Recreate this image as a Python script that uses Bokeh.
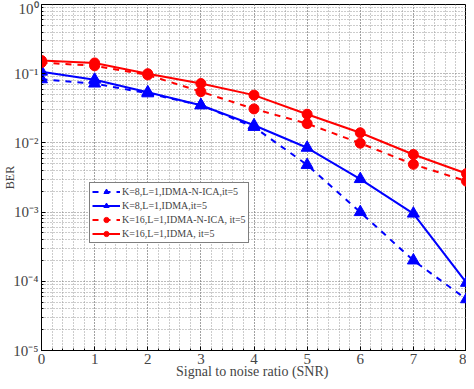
from bokeh.plotting import figure
from bokeh.embed import file_html
from bokeh.resources import INLINE
from bokeh.models import Legend, LegendItem, CustomJSTickFormatter, FixedTicker, Range1d

snr = [0, 1, 2, 3, 4, 5, 6, 7, 8]
k8_nica = [0.083, 0.072, 0.052, 0.035, 0.017, 0.0048, 0.001, 0.0002, 5.5e-5]
k8_idma = [0.107, 0.082, 0.054, 0.035, 0.018, 0.0085, 0.003, 0.00095, 9.5e-5]
k16_nica = [0.145, 0.13, 0.096, 0.055, 0.031, 0.019, 0.0099, 0.0049, 0.0028]
k16_idma = [0.155, 0.143, 0.1, 0.072, 0.049, 0.026, 0.014, 0.0068, 0.0036]
labels = ["K=8,L=1,IDMA-N-ICA,it=5", "K=8,L=1,IDMA,it=5",
          "K=16,L=1,IDMA-N-ICA, it=5", "K=16,L=1,IDMA, it=5"]
x_ticks = [0, 1, 2, 3, 4, 5, 6, 7, 8]
y_ticks = [1e-5, 1e-4, 1e-3, 1e-2, 1e-1, 1]
x_title = "Signal to noise  ratio (SNR)"
y_title = "BER"

FONT = "Liberation Serif"

p = figure(width=466, height=381, y_axis_type="log", output_backend="svg",
           toolbar_location=None, x_range=Range1d(0, 8), y_range=Range1d(1e-5, 1),
           min_border_left=0, min_border_right=0, min_border_top=4, min_border_bottom=0)

p.outline_line_color = "black"
p.outline_line_width = 1

series = [
    (k8_nica, "blue", "dashed", "triangle", 12),
    (k8_idma, "blue", "solid", "triangle", 12),
    (k16_nica, "red", "dashed", "circle", 10),
    (k16_idma, "red", "solid", "circle", 10),
]
items = []
for (ys, col, dash, mk, sz), lab in zip(series, labels):
    r1 = p.line(snr, ys, line_color=col, line_width=2, line_dash=dash)
    r2 = p.scatter(snr, ys, marker=mk, size=sz, fill_color=col, line_color=col)
    items.append(LegendItem(label=lab, renderers=[r1, r2]))

legend = Legend(items=items, location=(48, 107), border_line_color="black",
                border_line_width=1.5, label_text_font=FONT, label_text_font_size="10px",
                label_height=13, glyph_height=13, glyph_width=28, spacing=1,
                padding=2, margin=0, label_standoff=2, background_fill_alpha=1)
p.add_layout(legend, "center")

p.xaxis.ticker = FixedTicker(ticks=x_ticks, minor_ticks=[i * 0.2 for i in range(41)])
p.yaxis.ticker = FixedTicker(ticks=y_ticks,
                             minor_ticks=[m * 10 ** e for e in range(-5, 0) for m in range(2, 10)])
p.yaxis.formatter = CustomJSTickFormatter(code="""
const e = Math.round(Math.log10(tick));
const sup = {'-':'\u207b','0':'\u2070','1':'\u00b9','2':'\u00b2','3':'\u00b3','4':'\u2074','5':'\u2075','6':'\u2076','7':'\u2077','8':'\u2078','9':'\u2079'};
return '10' + String(e).split('').map(c => sup[c]).join('');
""")

for ax in (p.xaxis[0], p.yaxis[0]):
    ax.major_tick_in = 4
    ax.major_tick_out = 0
    ax.minor_tick_in = 2
    ax.minor_tick_out = 0
    ax.major_label_text_font = FONT
    ax.major_label_text_font_size = "15px"
    ax.axis_label_text_font = FONT
    ax.axis_label_text_font_size = "14px"
    ax.axis_label_text_font_style = "normal"
    ax.axis_line_color = "black"
    ax.major_label_standoff = 3

p.xaxis.axis_label = x_title
p.xaxis.major_label_text_line_height = 1.0
p.xaxis.axis_label_text_line_height = 1.0
p.xaxis.axis_label_standoff = -3
p.yaxis.axis_label = y_title
p.yaxis.axis_label_text_font_size = "12px"
p.yaxis.axis_label_standoff = -7

for g in (p.xgrid[0], p.ygrid[0]):
    g.grid_line_color = "#777777"
    g.grid_line_dash = "1 2"
    g.grid_line_width = 1
    g.minor_grid_line_color = "#999999"
    g.minor_grid_line_dash = "1 2"
    g.minor_grid_line_width = 1

open("out.html", "w").write(file_html(p, INLINE))
